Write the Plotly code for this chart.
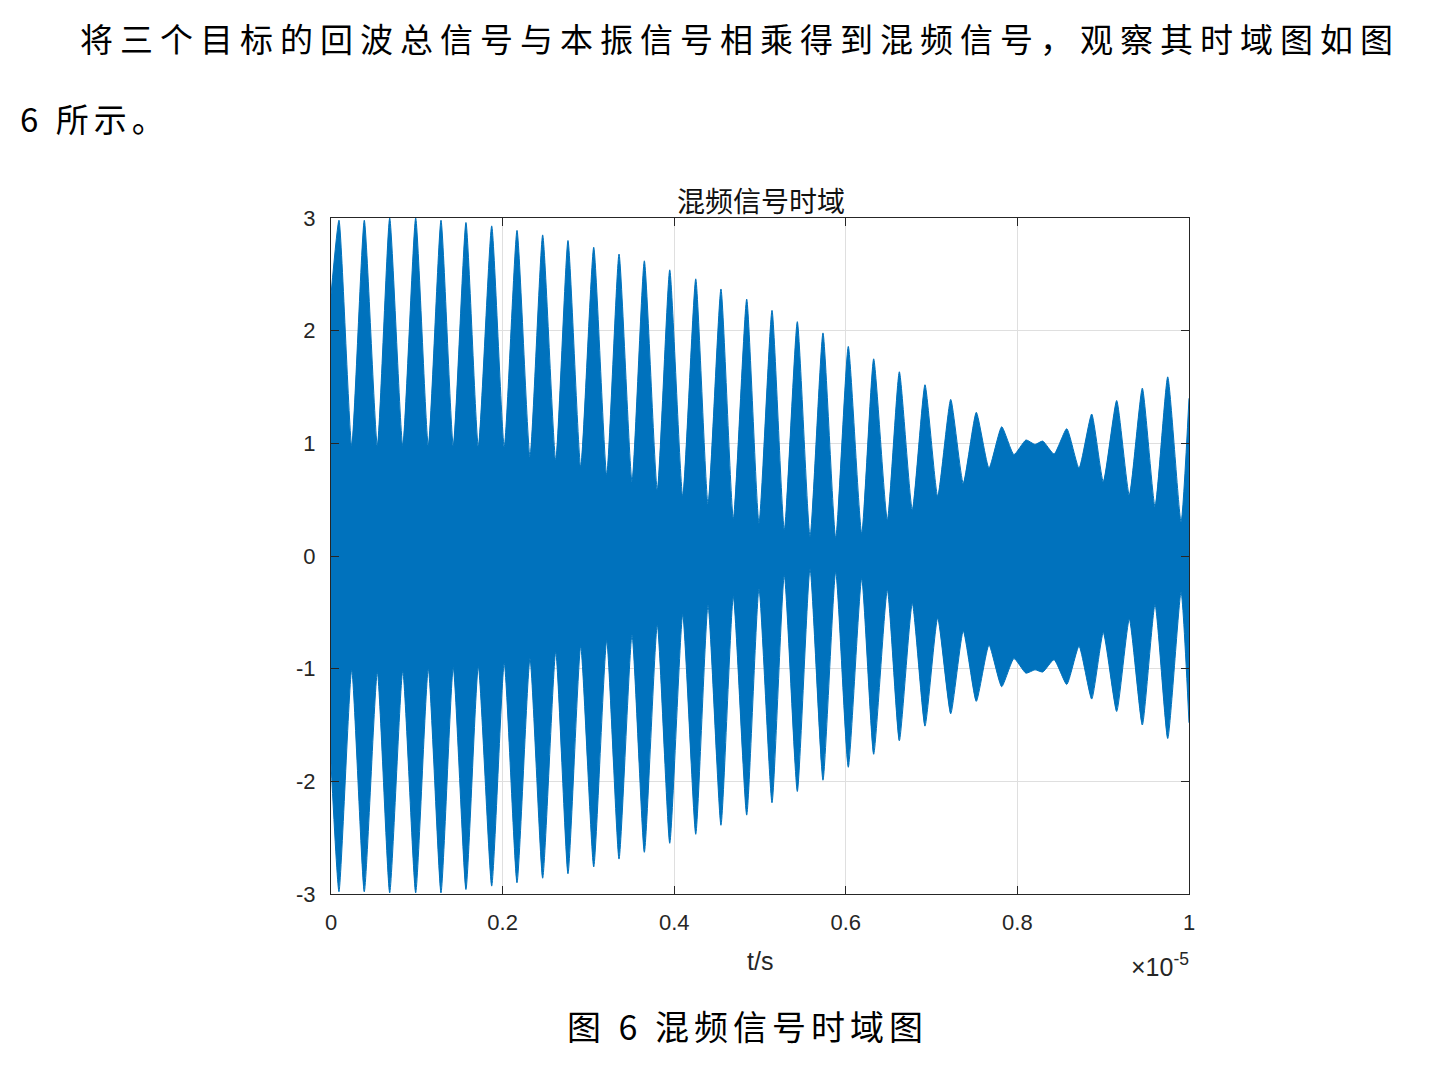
import plotly.graph_objects as go

# ---- data (time in units of 1e-5 s), envelope ----
t_env = [0.0, 0.0093, 0.0241, 0.0388, 0.0540, 0.0684, 0.0836, 0.0987, 0.1134, 0.1282,
         0.1425, 0.1573, 0.1717, 0.1873, 0.2019, 0.2168, 0.2319, 0.2467, 0.2619, 0.2762,
         0.2910, 0.3062, 0.3213, 0.3357, 0.3508, 0.3652, 0.3803, 0.3948, 0.4099, 0.4251,
         0.4394, 0.4545, 0.4689, 0.4845, 0.4988, 0.5140, 0.5283, 0.5435, 0.5583, 0.5734,
         0.5882, 0.6029, 0.6185, 0.6325, 0.6484, 0.6624, 0.6775, 0.6923, 0.7071, 0.7223,
         0.7369, 0.7521, 0.7669, 0.7817, 0.7960, 0.8100, 0.8205, 0.8295, 0.8427, 0.8575,
         0.8718, 0.8866, 0.9001, 0.9157, 0.9304, 0.9456, 0.9604, 0.9752, 0.9907, 1.0]

upper_env = [2.32, 2.98, 0.98, 2.98, 0.98, 3.00, 0.98, 3.00, 0.98, 2.98,
             0.98, 2.96, 0.97, 2.93, 0.97, 2.89, 0.88, 2.85, 0.85, 2.80,
             0.79, 2.74, 0.72, 2.68, 0.66, 2.62, 0.585, 2.54, 0.53, 2.46,
             0.46, 2.37, 0.33, 2.28, 0.29, 2.18, 0.23, 2.08, 0.17, 1.98,
             0.16, 1.86, 0.20, 1.75, 0.32, 1.635, 0.41, 1.52, 0.53, 1.39,
             0.645, 1.275, 0.78, 1.147, 0.90, 1.03, 0.99, 1.02, 0.905, 1.13,
             0.78, 1.26, 0.66, 1.38, 0.54, 1.49, 0.44, 1.59, 0.30, 1.40]

lower_env = [-1.84, -2.98, -1.01, -2.98, -1.03, -2.99, -1.02, -2.99, -1.00, -2.99,
             -0.99, -2.96, -0.98, -2.93, -0.95, -2.90, -0.91, -2.86, -0.85, -2.82,
             -0.80, -2.76, -0.75, -2.69, -0.70, -2.63, -0.61, -2.55, -0.52, -2.47,
             -0.435, -2.39, -0.36, -2.30, -0.29, -2.19, -0.17, -2.09, -0.11, -1.99,
             -0.14, -1.875, -0.20, -1.76, -0.30, -1.64, -0.42, -1.51, -0.55, -1.40,
             -0.665, -1.29, -0.79, -1.16, -0.91, -1.04, -1.01, -1.03, -0.92, -1.14,
             -0.80, -1.27, -0.68, -1.38, -0.56, -1.50, -0.43, -1.62, -0.32, -1.48]

x_tickvals = [0, 0.2, 0.4, 0.6, 0.8, 1]
x_ticktext = ["0", "0.2", "0.4", "0.6", "0.8", "1"]
y_tickvals = [-3, -2, -1, 0, 1, 2, 3]
y_ticktext = ["-3", "-2", "-1", "0", "1", "2", "3"]

title_text = "混频信号时域"
xlabel_text = "t/s"
exp_text = "×10<sup>-5</sup>"
para_line1 = "将三个目标的回波总信号与本振信号相乘得到混频信号，观察其时域图如图"
para_line2 = "6 所示。"
caption_text = "图 6 混频信号时域图"

# ---- layout geometry (page pixel coords; page has 8px body offset) ----
W, H = 1443, 1067
OFF = 8
L, R, T, B = 331, 1189, 218, 894
def px(x):
    return (x - L) / (R - L)
def py(y):
    return (B - y) / (B - T)

BLUE = "#0072BD"
AX = "#262626"
fig = go.Figure()
fig.add_trace(go.Scatter(x=t_env, y=lower_env, mode="lines",
                         line=dict(color=BLUE, width=1, shape="spline", smoothing=0.5),
                         hoverinfo="skip", showlegend=False))
fig.add_trace(go.Scatter(x=t_env, y=upper_env, mode="lines", fill="tonexty",
                         fillcolor=BLUE,
                         line=dict(color=BLUE, width=1, shape="spline", smoothing=0.5),
                         hoverinfo="skip", showlegend=False))

tickfont = dict(family="Liberation Sans, Arial, sans-serif", size=22, color=AX)
fig.update_xaxes(range=[0, 1], tickvals=x_tickvals, ticktext=x_ticktext,
                 showline=True, linecolor=AX, linewidth=1, mirror="allticks",
                 ticks="inside", ticklen=8, tickcolor=AX, tickwidth=1,
                 showgrid=True, gridcolor="#dfdfdf", gridwidth=1, zeroline=False,
                 tickfont=tickfont, ticklabelstandoff=9)
fig.update_yaxes(range=[-3, 3], tickvals=y_tickvals, ticktext=y_ticktext,
                 showline=True, linecolor=AX, linewidth=1, mirror="allticks",
                 ticks="inside", ticklen=8, tickcolor=AX, tickwidth=1,
                 showgrid=True, gridcolor="#dfdfdf", gridwidth=1, zeroline=False,
                 tickfont=tickfont, ticklabelstandoff=10)

cjk = "Noto Sans CJK SC"
sans = "Liberation Sans, Arial, sans-serif"
ann = [
    dict(text=title_text, x=px(761), y=py(200), xanchor="center", yanchor="middle",
         font=dict(family=cjk, size=28, color="#111111")),
    dict(text=xlabel_text, x=px(760), y=py(961), xanchor="center", yanchor="middle",
         font=dict(family=sans, size=25, color=AX)),
    dict(text=exp_text, x=px(1191), y=py(965), xanchor="right", yanchor="middle",
         font=dict(family=sans, size=25, color=AX)),
    dict(text='<span style="letter-spacing:7px">' + para_line1 + '</span>',
         x=px(78), y=py(38), xanchor="left", yanchor="middle",
         font=dict(family=cjk, size=33, color="#000000")),
    dict(text='<span style="letter-spacing:5px">' + para_line2 + '</span>',
         x=px(18), y=py(118), xanchor="left", yanchor="middle",
         font=dict(family=cjk, size=33, color="#000000")),
    dict(text='<span style="letter-spacing:5px">' + caption_text + '</span>',
         x=px(565), y=py(1026), xanchor="left", yanchor="middle",
         font=dict(family=cjk, size=34, color="#000000")),
]
for a in ann:
    a.update(xref="paper", yref="paper", showarrow=False)
fig.update_layout(width=W, height=H,
                  margin=dict(l=L - OFF, r=W - (R - OFF), t=T - OFF, b=H - (B - OFF)),
                  paper_bgcolor="white", plot_bgcolor="white",
                  annotations=ann, showlegend=False)

fig.write_html("out.html")
